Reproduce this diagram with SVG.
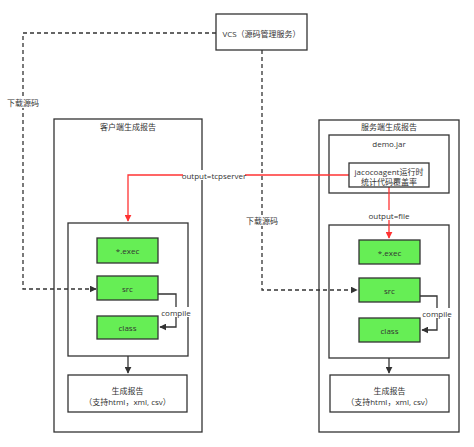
<svg xmlns="http://www.w3.org/2000/svg" width="474" height="447" viewBox="0 0 474 447">
<style>
text{font-family:"Open Sans","Liberation Sans","Noto Sans CJK SC",sans-serif;font-size:8px;fill:#333;text-anchor:middle;dominant-baseline:central}
.box{fill:#fff;stroke:#333;stroke-width:1.3}
.g{fill:#66ee55;stroke:#333;stroke-width:1.3}
.dash{fill:none;stroke:#333;stroke-width:1.3;stroke-dasharray:4 3}
.solid{fill:none;stroke:#333;stroke-width:1.3}
.red{fill:none;stroke:#f33;stroke-width:1.3}
.lbl{fill:#fff}
</style>
<defs>
<marker id="ab" viewBox="0 0 10 10" refX="9" refY="5" markerWidth="7" markerHeight="7" orient="auto" markerUnits="userSpaceOnUse"><path d="M0,0 L10,5 L0,10 z" fill="#333"/></marker>
<marker id="ar" viewBox="0 0 10 10" refX="9" refY="5" markerWidth="7" markerHeight="7" orient="auto" markerUnits="userSpaceOnUse"><path d="M0,0 L10,5 L0,10 z" fill="#f33"/></marker>
</defs>
<rect width="474" height="447" fill="#fff"/>
<g id="client"><rect class="box" x="54" y="119" width="148" height="313"/><text x="128" y="126">客户端生成报告</text></g>
<g id="server"><rect class="box" x="319" y="120" width="140" height="312"/><text x="389" y="126">服务端生成报告</text></g>
<g id="client-inner"><rect class="box" x="68" y="223" width="120" height="133"/></g>
<g id="server-inner"><rect class="box" x="329" y="225" width="120" height="133"/></g>
<g id="demojar"><rect class="box" x="329" y="135" width="120" height="58"/><text x="389" y="143">demo.jar</text></g>
<g id="vcs"><rect class="box" x="216" y="14" width="91" height="36"/><text x="261.5" y="33">VCS（源码管理服务）</text></g>
<g id="connectors">
<path class="dash" d="M216,33 H23 V289 H96" marker-end="url(#ab)"/>
<path class="dash" d="M262,50 V290 H357" marker-end="url(#ab)"/>
<path class="solid" d="M158,294 H176 V327 H160" marker-end="url(#ab)"/>
<path class="solid" d="M420,296 H437 V330 H422" marker-end="url(#ab)"/>
<path class="solid" d="M128,356 V373" marker-end="url(#ab)"/>
<path class="solid" d="M389,358 V373" marker-end="url(#ab)"/>
<path class="red" d="M349,175 H128 V221" marker-end="url(#ar)"/>
<path class="red" d="M389,187 V238" marker-end="url(#ar)"/>
<rect class="lbl" x="6" y="97" width="34" height="11"/><text x="23" y="102">下载源码</text>
<rect class="lbl" x="245" y="215" width="34" height="11"/><text x="262" y="220">下载源码</text>
<rect class="lbl" x="183" y="170" width="62" height="10"/><text x="214" y="175">output=tcpserver</text>
<rect class="lbl" x="367" y="210" width="44" height="10"/><text x="389" y="215">output=file</text>
<rect class="lbl" x="162" y="307" width="28" height="10"/><text x="176" y="312">compile</text>
<rect class="lbl" x="423" y="308" width="28" height="10"/><text x="437" y="313">compile</text>
</g>
<g id="jacoco"><rect class="box" x="349" y="163" width="80" height="24"/><text x="389" y="171">jacocoagent运行时</text><text x="389" y="181">统计代码覆盖率</text></g>
<g id="c-exec"><rect class="g" x="97" y="238" width="61" height="25"/><text x="127.5" y="250.5">*.exec</text></g>
<g id="c-src"><rect class="g" x="97" y="276" width="61" height="24"/><text x="127.5" y="288">src</text></g>
<g id="c-class"><rect class="g" x="97" y="316" width="61" height="23"/><text x="127.5" y="327.5">class</text></g>
<g id="s-exec"><rect class="g" x="359" y="240" width="61" height="24"/><text x="389.5" y="252">*.exec</text></g>
<g id="s-src"><rect class="g" x="359" y="278" width="61" height="24"/><text x="389.5" y="290">src</text></g>
<g id="s-class"><rect class="g" x="359" y="318" width="61" height="24"/><text x="389.5" y="330">class</text></g>
<g id="c-report"><rect class="box" x="68" y="375" width="119" height="37"/><text x="127.5" y="390">生成报告</text><text x="127.5" y="401">（支持html，xml, csv）</text></g>
<g id="s-report"><rect class="box" x="330" y="375" width="119" height="37"/><text x="389.5" y="390">生成报告</text><text x="389.5" y="401">（支持html，xml, csv）</text></g>
</svg>
